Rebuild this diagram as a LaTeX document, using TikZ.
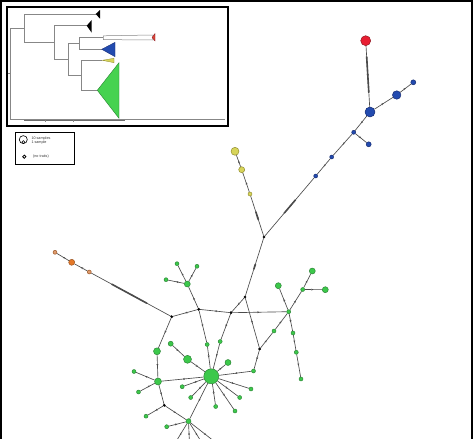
\documentclass[tikz,border=0pt]{standalone}
\usepackage{fontspec}
\setmainfont{Liberation Sans}
\usetikzlibrary{calc,arrows.meta,decorations.markings,backgrounds}
\definecolor{gfill}{RGB}{60,200,75}
\definecolor{gdraw}{RGB}{40,130,50}
\definecolor{bfill}{RGB}{35,75,175}
\definecolor{bdraw}{RGB}{20,40,110}
\definecolor{rfill}{RGB}{232,30,50}
\definecolor{rdraw}{RGB}{140,20,30}
\definecolor{yfill}{RGB}{215,212,90}
\definecolor{ydraw}{RGB}{140,135,40}
\definecolor{ofill}{RGB}{228,120,40}
\definecolor{lofill}{RGB}{222,155,110}
\definecolor{odraw}{RGB}{150,80,30}
\definecolor{edgec}{RGB}{75,75,75}
\definecolor{treec}{RGB}{135,135,135}
\definecolor{trig}{RGB}{70,210,80}
\tikzset{
  dot/.style={circle, inner sep=0pt, line width=0.45pt},
  gn/.style={dot, fill=gfill, draw=gdraw, minimum size=#1},
  bn/.style={dot, fill=bfill, draw=bdraw, minimum size=#1},
  rn/.style={dot, fill=rfill, draw=rdraw, minimum size=#1},
  yn/.style={dot, fill=yfill, draw=ydraw, minimum size=#1},
  on/.style={dot, fill=ofill, draw=odraw, minimum size=#1},
  lon/.style={dot, fill=lofill, draw=odraw, minimum size=#1},
  kn/.style={dot, fill=black, draw=black, minimum size=2.3pt},
  edge/.style={draw=edgec, line width=0.65pt, postaction={decorate},
    decoration={markings, mark=at position 0.5 with {\arrow[edgec]{Stealth[length=2.2pt,width=1.9pt]}}}},
  hatch/.style={draw=edgec, line width=1.6pt},
  tree/.style={draw=treec, line width=0.6pt},
  leg/.style={font=\fontsize{3.7}{4}\selectfont, text=black!80, inner sep=0pt, anchor=west}
}
\begin{document}
\begin{tikzpicture}[x=1pt,y=-1pt]
\useasboundingbox (0,0) rectangle (474,439);
\begin{scope}
\clip (0,0) rectangle (474,439);
% outer frame
\draw[line width=2pt] (1,450) -- (1,1) -- (471.7,1) -- (471.7,450);

% ---------- inset tree ----------
\node[draw, line width=2.4pt, minimum width=220.5pt, minimum height=118.5pt, inner sep=0pt, anchor=north west] (inset) at (6,6) {};
\draw[tree] (10.7,28) -- (10.7,119.3) -- (225,119.3);
\draw[tree] (8,73.3) -- (10.7,73.3);
\draw[treec!80!black, line width=1pt] (24.3,120.6) -- (125,120.6);
\draw[tree] (45.7,119) -- (45.7,121.5) (73.3,119) -- (73.3,121.5);
\draw[tree] (10.7,28) -- (24.3,28) (24.3,14) -- (24.3,42.7) (24.3,14) -- (96,14);
\fill[black] (95.7,14) -- (100,10) -- (100,18.7) -- cycle;
\draw[tree] (24.3,42.7) -- (54,42.7) (54,25.7) -- (54,59.3) (54,25.7) -- (87,25.7);
\fill[black] (86.7,25.7) -- (91.7,20) -- (91.7,32.7) -- cycle;
\draw[tree] (54,59.3) -- (68.3,59.3) (68.3,43.3) -- (68.3,75.3) (68.3,43.3) -- (79.3,43.3)
  (79.3,37.7) -- (79.3,49.3) (79.3,37.7) -- (103.3,37.7);
\filldraw[fill=white, draw=treec, line width=0.5pt] (103.3,35.8) -- (153,35) -- (153,40) -- (103.3,39.6) -- cycle;
\filldraw[fill=rfill!60!brown, draw=rdraw, line width=0.3pt] (152,37.5) -- (155,33.5) -- (155,41) -- cycle;
\draw[tree] (79.3,49.3) -- (101.7,49.3);
\filldraw[fill=bfill, draw=bdraw, line width=0.3pt] (101.7,49.3) -- (115,42.3) -- (115,56.7) -- cycle;
\draw[tree] (68.3,75.3) -- (81,75.3) (81,60.3) -- (81,90.3) (81,60.3) -- (102.3,60.3) (81,90.3) -- (97.3,90.3);
\filldraw[fill=yfill, draw=ydraw, line width=0.3pt] (102.3,60.3) -- (114,58.3) -- (114,62.7) -- cycle;
\filldraw[fill=trig, draw=gdraw, line width=0.4pt] (97.3,90.3) -- (119,62.7) -- (119,118.3) -- cycle;

% ---------- legend ----------
\node[draw, line width=0.6pt, minimum width=59pt, minimum height=31.7pt, inner sep=0pt, anchor=north west] (legbox) at (15,132.3) {};
\node[circle, draw, line width=0.6pt, minimum size=8pt, inner sep=0pt] (lbig) at (23.3,139.6) {};
\node[circle, draw, line width=0.5pt, minimum size=3pt, inner sep=0pt] (lsmall) at (23.3,142.1) {};
\node[leg] (t10) at (31.3,138.6) {10 samples};
\node[leg] (t1) at (31.3,142.9) {1 sample};
\node[circle, draw, line width=0.8pt, minimum size=3.2pt, inner sep=0pt] (lnone) at (24.3,156.7) {};
\node[leg] (tnone) at (33,156.7) {(no traits)};

% ---------- network nodes ----------
\node[rn=10pt] (R) at (365.7,40.7) {};
\node[bn=10pt] (B1) at (370,112) {};
\node[bn=8.5pt] (B2) at (396.7,95) {};
\node[bn=5pt] (B3) at (413.3,82.3) {};
\node[bn=4pt] (B4) at (353.7,132.3) {};
\node[bn=5pt] (B5) at (368.7,144.3) {};
\node[bn=4pt] (B6) at (331.7,157) {};
\node[bn=4pt] (B7) at (315.7,176) {};
\node[kn] (J1) at (264,237) {};
\node[yn=8pt] (Y1) at (235,151.3) {};
\node[yn=6pt] (Y2) at (241.7,169.7) {};
\node[yn=4pt] (Y3) at (250,194) {};
\node[kn] (K1) at (245,297) {};
\node[kn] (K2) at (231,312.7) {};
\node[kn] (K3) at (198.7,309.3) {};
\node[kn] (K4) at (171.7,316.7) {};
\node[kn] (K5) at (259.7,349) {};
\node[kn] (K6) at (164.3,405.3) {};
\node[lon=4pt] (O1) at (55,252.3) {};
\node[on=6pt] (O2) at (71.7,262.3) {};
\node[lon=4pt] (O3) at (89.3,272) {};
\node[gn=15pt] (H) at (211.3,376.3) {};
\node[gn=4pt] (G1) at (288.7,311.7) {};
\node[gn=6pt] (G2) at (278.3,285.7) {};
\node[gn=4pt] (G3) at (302.7,289.5) {};
\node[gn=6pt] (G4) at (312.3,271) {};
\node[gn=6pt] (G5) at (325.3,289.7) {};
\node[gn=4pt] (G6) at (293,333) {};
\node[gn=4pt] (G7) at (296.3,352.3) {};
\node[gn=4pt] (G8) at (301,379) {};
\node[gn=4pt] (G9) at (274,331) {};
\node[gn=4pt] (G10) at (253.5,371) {};
\node[gn=6pt] (G11) at (228,362.5) {};
\node[gn=4pt] (G12) at (220.2,341.5) {};
\node[gn=4pt] (G13) at (207.2,344.5) {};
\node[gn=8pt] (G14) at (187.5,359.3) {};
\node[gn=5pt] (G15) at (170.7,343.7) {};
\node[gn=7pt] (G16) at (157,351.3) {};
\node[gn=7pt] (G17) at (158,381.5) {};
\node[gn=4pt] (G18) at (134,371.5) {};
\node[gn=4pt] (G19) at (138.5,392) {};
\node[gn=4pt] (G20) at (146,416.2) {};
\node[gn=4pt] (G21) at (166.7,426.7) {};
\node[gn=5pt] (G22) at (188.5,421.2) {};
\node[gn=4pt] (G23) at (182.2,386.7) {};
\node[gn=4pt] (G24) at (190.7,397.5) {};
\node[gn=4pt] (G25) at (215.7,406.5) {};
\node[gn=4pt] (G26) at (235,411) {};
\node[gn=4pt] (G27) at (239.7,397.5) {};
\node[gn=4pt] (G28) at (251,389) {};
\node[gn=6pt] (G29) at (187.3,284) {};
\node[gn=4pt] (G30) at (177,263.7) {};
\node[gn=4pt] (G31) at (197,266.3) {};
\node[gn=4pt] (G32) at (166,279.7) {};
\coordinate (E1) at (172.7,447);
\coordinate (E2) at (189.6,447);
\coordinate (E3) at (204.5,447);
\coordinate (E4) at (221.5,447);

% ---------- edges ----------
\begin{pgfonlayer}{background}
\fill[white] (0,0) rectangle (474,439);
\begin{scope}
\clip (0,0) rectangle (474,439);
\foreach \a/\b in {R/B1, B1/B2, B2/B3, B1/B4, B4/B5, B4/B6, B6/B7, B7/J1,
  J1/Y3, Y3/Y2, Y2/Y1, J1/K1, K1/K2, K1/K5, K2/K3, K3/K4, K2/G1, K4/O3, O3/O2, O2/O1,
  K3/G29, G29/G30, G29/G31, G29/G32, K3/G13, G13/H, K2/G12, G12/H, K4/G16, G16/G17,
  G15/G14, G14/H, H/G11, H/G17, G17/G18, G17/G19, G17/K6, K6/G20, G21/G22, K6/G22, H/G22,
  H/G23, H/G24, H/G25, H/G26, H/G27, H/G28, K5/G10, G10/H, K5/G9, G9/G1,
  G1/G2, G1/G3, G3/G4, G3/G5, G1/G6, G6/G7, G7/G8, G22/E1, G22/E2, G22/E3, G22/E4}
  \draw[edge] (\a) -- (\b);
\draw[hatch] ($(R)!0.22!(B1)$) -- ($(R)!0.73!(B1)$);
\draw[hatch] ($(B7)!0.39!(J1)$) -- ($(B7)!0.61!(J1)$);
\draw[hatch] ($(J1)!0.40!(Y3)$) -- ($(J1)!0.59!(Y3)$);
\draw[hatch] ($(J1)!0.45!(K1)$) -- ($(J1)!0.54!(K1)$);
\draw[hatch] ($(K4)!0.30!(O3)$) -- ($(K4)!0.73!(O3)$);
\end{scope}
\end{pgfonlayer}
\end{scope}
\end{tikzpicture}
\end{document}
